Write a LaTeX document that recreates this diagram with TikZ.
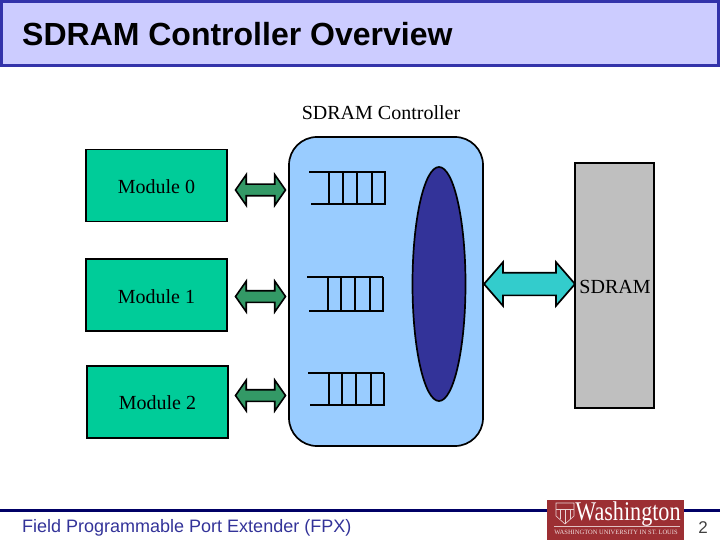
\documentclass[tikz,border=0pt]{standalone}
\usepackage{fontspec}
\setmainfont{Liberation Serif}
\setsansfont{Liberation Sans}
\usetikzlibrary{shapes.geometric,shapes.arrows}
\definecolor{barfill}{HTML}{CCCCFF}
\definecolor{barline}{HTML}{3333AA}
\definecolor{modfill}{HTML}{00CC99}
\definecolor{ctrlfill}{HTML}{99CCFF}
\definecolor{arbfill}{HTML}{333399}
\definecolor{portfill}{HTML}{339966}
\definecolor{busfill}{HTML}{33CCCC}
\definecolor{logofill}{HTML}{9C2F33}
\definecolor{footline}{HTML}{000066}
\definecolor{foottext}{HTML}{333399}
% queue: top-left x, bottom-left x, right x, top y, bottom y, list of bars
\newcommand{\queuebox}[6]{
    \draw [qline] (#1,#4) -- (#3,#4);
    \draw [qline] (#2,#5) -- (#3,#5);
    \foreach \x in {#6} \draw [qline] (\x,#4) -- (\x,#5+1);
}
\begin{document}
\begin{tikzpicture}[x=1pt,y=-1pt]
        \tikzstyle{module}=[rectangle,draw,line width=1.5pt,fill=modfill,inner sep=0pt,minimum width=141pt,minimum height=72pt]
        \tikzstyle{port}=[double arrow,draw=black,line width=1.6pt,fill=portfill,inner xsep=0pt,inner ysep=5pt,minimum height=50pt,minimum width=29pt,double arrow head extend=9.5pt,double arrow tip angle=110]
        \tikzstyle{qline}=[line width=1.4pt]
        \tikzstyle{label}=[inner sep=0pt,font=\fontsize{20}{20}\selectfont]
        \useasboundingbox (0,0) rectangle (720,540);
        \node [rectangle,draw=barline,line width=3pt,fill=barfill,inner sep=0pt,minimum width=717pt,minimum height=64.5pt] (bar) at (360,33.5) {};
        \node [anchor=west,inner sep=0pt,font=\fontsize{32}{32}\selectfont\sffamily\bfseries] (title) at (22,34) {SDRAM Controller Overview};
        \node [label] (ctrllabel) at (381,112.5) {SDRAM Controller};
        \node [module] (mod0) at (156.5,185.5) {};
        \node [module] (mod1) at (156.5,295) {};
        \node [module] (mod2) at (157.5,402) {};
        \node [label] (mod0text) at (156.5,186.5) {Module 0};
        \node [label] (mod1text) at (156.5,296.5) {Module 1};
        \node [label] (mod2text) at (157.5,402.5) {Module 2};
        \node [rectangle,draw,line width=1.7pt,fill=ctrlfill,rounded corners=28pt,minimum width=194pt,minimum height=309pt] (ctrl) at (386,291.5) {};
        \queuebox{309}{311}{386}{172}{204}{329,343,357,372,385}
        \queuebox{307}{309}{383}{277}{311}{328,341,355,370,383}
        \queuebox{308}{310}{384}{373}{405}{329,342,356,371,384}
        \node [ellipse,draw,line width=1.7pt,fill=arbfill,inner sep=0pt,minimum width=53pt,minimum height=234pt] (arb) at (439,284) {};
        \node [rectangle,draw=black,line width=1.4pt,fill=black!25,minimum width=79pt,minimum height=245pt] (sdram) at (614.5,285.5) {};
        \node [label] (sdramtext) at (615,287) {SDRAM};
        \node [port] (port0) at (260.5,190) {};
        \node [port] (port1) at (260.5,296.5) {};
        \node [port] (port2) at (260.5,395.5) {};
        \node [double arrow,draw=black,line width=1.7pt,fill=busfill,inner xsep=0pt,inner ysep=10.5pt,minimum height=91pt,minimum width=42pt,double arrow head extend=10.5pt,double arrow tip angle=98] (bus) at (529.5,284) {};
        \node [rectangle,fill=footline,inner sep=0pt,minimum width=720pt,minimum height=3pt] (rule) at (360,510) {};
        \node [anchor=west,inner sep=0pt,text=foottext,font=\fontsize{18}{18}\selectfont\sffamily] (foot) at (22,527.5) {Field Programmable Port Extender (FPX)};
        \node [rectangle,fill=logofill,inner sep=0pt,minimum width=137pt,minimum height=40pt] (logo) at (615.5,520) {};
        \draw [white!80!logofill,line width=0.6pt] (556,503) -- (574,503) -- (574,516) -- (565,524) -- (556,516) -- cycle;
        \draw [white!80!logofill,line width=0.5pt] (556,509) -- (574,509) (560,509) -- (560,519) (565,509) -- (565,524) (570,509) -- (570,519);
        \node [inner sep=0pt,text=white,font=\fontsize{27}{27}\selectfont,xscale=0.82] (logoname) at (628,514) {Washington};
        \draw [white!70!logofill,line width=0.5pt] (554,526) -- (680,526);
        \node [inner sep=0pt,text=white!85!logofill,font=\fontsize{6.5}{6.5}\selectfont] (logosub) at (616,532) {WASHINGTON UNIVERSITY IN ST. LOUIS};
        \node [inner sep=0pt,text=black!75,font=\fontsize{17}{17}\selectfont\sffamily] (page) at (703,527.5) {2};
    \end{tikzpicture}
\end{document}
